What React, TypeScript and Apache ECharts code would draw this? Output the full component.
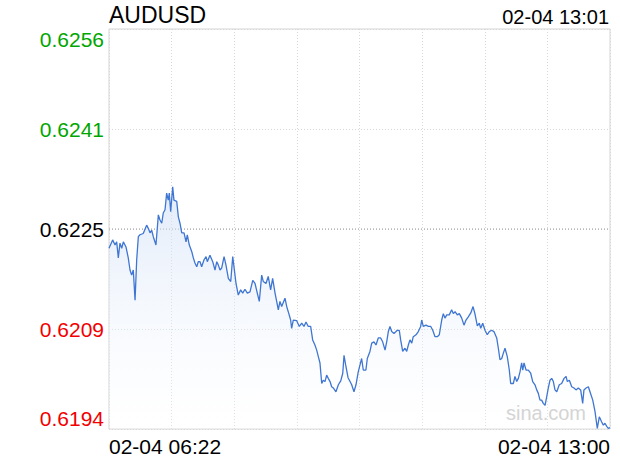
import React, { useEffect, useRef } from "react";
import * as echarts from "echarts";

const symbolName = "AUDUSD";
const quoteTime = "02-04 13:01";
const xLabels = ["02-04 06:22", "02-04 13:00"];
const sessionMinutes = 398; // 06:22 -> 13:00
const prevClose = 0.6225;
const yTicks = [0.61938, 0.62094, 0.6225, 0.62406, 0.62562];
const watermark = "sina.com";

// [minutes since 06:22, price]
const quotes: [number, number][] = [
  [0, 0.6222], [2.9, 0.62233], [4.8, 0.62225], [6.1, 0.6223], [7.4, 0.62205], [8.7, 0.62228],
  [10.1, 0.6222], [11.4, 0.6223], [13.5, 0.62222], [15.3, 0.62205], [16.7, 0.62186], [18.0, 0.62178],
  [19.3, 0.62186], [20.7, 0.62139], [22.0, 0.62202], [23.3, 0.62238], [24.6, 0.62241], [27.2, 0.62243],
  [29.9, 0.62256], [31.2, 0.62251], [32.6, 0.62244], [33.9, 0.62248], [35.2, 0.62238], [37.3, 0.62225],
  [39.2, 0.62272], [40.5, 0.62264], [41.9, 0.62259], [43.1, 0.62275], [44.5, 0.6228], [45.8, 0.62306],
  [47.1, 0.62295], [47.9, 0.62306], [49.0, 0.62277], [50.6, 0.62316], [51.6, 0.62295], [53.8, 0.62293],
  [55.1, 0.62269], [56.4, 0.62259], [57.8, 0.62244], [59.6, 0.62244], [61.2, 0.6223], [62.2, 0.62241],
  [63.8, 0.62225], [65.7, 0.62215], [67.0, 0.62205], [68.3, 0.62197], [69.7, 0.62191], [70.9, 0.62199],
  [72.3, 0.62199], [73.6, 0.62191], [75.5, 0.62202], [77.1, 0.62207], [78.1, 0.62199], [80.2, 0.62209],
  [82.4, 0.62199], [84.2, 0.62186], [85.6, 0.62199], [86.8, 0.62194], [88.2, 0.62186], [89.5, 0.62189],
  [91.4, 0.62207], [92.9, 0.62194], [94.8, 0.62173], [96.7, 0.62168], [98.3, 0.62207], [99.3, 0.62191],
  [100.9, 0.62165], [102.7, 0.62147], [104.6, 0.62155], [106.2, 0.6215], [108.0, 0.62156], [109.9, 0.6215],
  [112.0, 0.62152], [114.2, 0.6217], [116.0, 0.62165], [117.8, 0.6215], [119.4, 0.62137], [121.3, 0.62178],
  [122.6, 0.62168], [124.7, 0.62165], [126.5, 0.62176], [128.4, 0.62155], [130.0, 0.62173], [131.9, 0.6215],
  [133.2, 0.62137], [134.5, 0.62124], [135.8, 0.62137], [137.2, 0.62129], [139.8, 0.62142], [141.2, 0.62129],
  [142.4, 0.62121], [144.3, 0.62108], [145.1, 0.62095], [146.4, 0.62108], [149.1, 0.62107], [151.2, 0.62098],
  [153.1, 0.62103], [154.9, 0.62098], [156.5, 0.62105], [158.3, 0.62098], [160.2, 0.62098], [161.8, 0.62077],
  [163.6, 0.62069], [165.0, 0.62061], [166.3, 0.62051], [167.6, 0.62041], [169.0, 0.62009], [170.2, 0.62014],
  [171.6, 0.62012], [172.9, 0.62022], [174.2, 0.62017], [175.6, 0.62012], [176.9, 0.62004], [178.2, 0.62002],
  [180.3, 0.61996], [182.2, 0.62007], [184.1, 0.62013], [185.7, 0.62025], [186.7, 0.62053], [188.0, 0.62038],
  [189.9, 0.62018], [191.5, 0.62012], [192.8, 0.62007], [194.6, 0.61996], [196.2, 0.62007], [198.0, 0.62027],
  [199.4, 0.62038], [200.7, 0.62048], [202.0, 0.6203], [204.1, 0.6203], [205.2, 0.62048], [207.3, 0.62059],
  [208.7, 0.62072], [210.5, 0.62074], [212.1, 0.62069], [213.9, 0.6208], [215.8, 0.6208], [217.4, 0.62074],
  [219.3, 0.62061], [220.6, 0.62074], [221.9, 0.6209], [223.2, 0.62098], [224.6, 0.6209], [226.4, 0.62087],
  [228.0, 0.6209], [229.0, 0.62092], [230.6, 0.62092], [231.7, 0.62077], [233.3, 0.62059], [235.1, 0.62064],
  [236.5, 0.62059], [237.8, 0.62069], [239.1, 0.62077], [240.5, 0.62072], [241.7, 0.62082], [243.9, 0.62085],
  [245.7, 0.6209], [247.6, 0.62098], [248.4, 0.62108], [249.7, 0.62098], [251.8, 0.621], [253.7, 0.62098],
  [255.6, 0.62098], [257.2, 0.62092], [259.0, 0.62082], [260.8, 0.62082], [262.4, 0.62085], [264.3, 0.62108],
  [265.6, 0.62118], [266.9, 0.62111], [268.3, 0.62116], [270.3, 0.62116], [272.2, 0.62124], [273.5, 0.62118],
  [274.9, 0.62121], [276.7, 0.62116], [278.3, 0.62118], [280.2, 0.62111], [282.0, 0.621], [283.6, 0.62108],
  [285.4, 0.62113], [287.4, 0.62119], [289.2, 0.62129], [290.8, 0.62117], [292.6, 0.62099], [294.2, 0.62103],
  [295.3, 0.62095], [296.9, 0.62103], [298.7, 0.62092], [300.5, 0.62085], [302.1, 0.6209], [304.0, 0.62092],
  [305.8, 0.6209], [308.0, 0.6208], [309.3, 0.62064], [310.6, 0.62046], [312.0, 0.62048], [313.2, 0.62056],
  [314.6, 0.62064], [316.4, 0.62051], [318.0, 0.6203], [319.1, 0.62009], [321.2, 0.62009], [322.5, 0.6202],
  [323.9, 0.62012], [325.2, 0.62017], [326.5, 0.62027], [327.8, 0.62041], [328.7, 0.6203], [329.7, 0.62041],
  [331.3, 0.6203], [333.1, 0.6203], [335.0, 0.62025], [336.6, 0.62012], [338.4, 0.62007], [339.8, 0.61999],
  [341.0, 0.61994], [342.4, 0.61983], [343.7, 0.61983], [345.0, 0.61978], [346.4, 0.61975], [347.7, 0.61988],
  [349.0, 0.62002], [350.3, 0.62014], [351.7, 0.62017], [353.0, 0.62012], [354.3, 0.61999], [355.7, 0.61996],
  [357.7, 0.62007], [359.6, 0.62009], [361.5, 0.62017], [363.1, 0.6202], [364.1, 0.62012], [365.7, 0.62014],
  [367.6, 0.62004], [369.4, 0.62002], [371.0, 0.61999], [372.8, 0.62002], [374.7, 0.61999], [376.3, 0.61978],
  [377.3, 0.61999], [379.0, 0.62002], [380.8, 0.62004], [382.1, 0.61996], [384.3, 0.61983], [386.1, 0.61965],
  [387.9, 0.61939], [389.5, 0.61957], [391.4, 0.61949], [392.7, 0.61944], [394.0, 0.61947], [395.4, 0.61942],
  [396.7, 0.61939], [398, 0.6194],
];

const FONT = "'Liberation Sans', Arial, Helvetica, sans-serif";

export default function App() {
  const ref = useRef<HTMLDivElement>(null);

  useEffect(() => {
    if (!ref.current) return;
    const chart = echarts.init(ref.current, null, { renderer: "svg" });
    const yMin = yTicks[0];
    const yMax = yTicks[yTicks.length - 1];
    chart.setOption({
      animation: false,
      backgroundColor: "#fff",
      title: [
        {
          text: symbolName,
          left: 109,
          top: 3,
          padding: 0,
          textStyle: { fontFamily: FONT, fontSize: 23, fontWeight: "normal", color: "#000" },
        },
        {
          text: quoteTime,
          right: 11,
          top: 7,
          padding: 0,
          textStyle: { fontFamily: FONT, fontSize: 20, fontWeight: "normal", color: "#000" },
        },
      ],
      grid: {
        left: 109,
        top: 29,
        right: 10,
        bottom: 31,
        show: true,
        borderColor: "#d4d4d4",
        borderWidth: 1,
        backgroundColor: "transparent",
        outerBoundsMode: "none",
      },
      xAxis: {
        type: "value",
        min: 0,
        max: sessionMinutes,
        interval: sessionMinutes / 8,
        axisLine: { show: false },
        axisTick: { show: false },
        splitLine: { show: true, lineStyle: { type: [1, 2], color: "#d8d8d8", width: 1 } },
        axisLabel: {
          show: true,
          showMinLabel: true,
          showMaxLabel: true,
          alignMinLabel: "left",
          alignMaxLabel: "right",
          margin: 7,
          fontFamily: FONT,
          fontSize: 21,
          color: "#000",
          formatter: (v: number) => {
            if (v === 0) return xLabels[0];
            if (Math.abs(v - sessionMinutes) < 1e-6) return xLabels[1];
            return "";
          },
        },
      },
      yAxis: {
        type: "value",
        min: yMin,
        max: yMax,
        axisLine: { show: false },
        axisTick: { show: false, customValues: yTicks },
        splitLine: { show: true, lineStyle: { type: [1, 2], color: "#d8d8d8", width: 1 } },
        axisLabel: {
          customValues: yTicks,
          showMinLabel: true,
          showMaxLabel: true,
          verticalAlignMinLabel: "bottom",
          verticalAlignMaxLabel: "top",
          margin: 5,
          fontFamily: FONT,
          fontSize: 21,
          formatter: (v: number) => Number(v).toFixed(4),
          color: (val: any) => {
            const n = parseFloat(val);
            if (n > prevClose + 1e-6) return "#00a600";
            if (n < prevClose - 1e-6) return "#f20000";
            return "#000";
          },
        },
      },
      graphic: [
        {
          type: "text",
          left: 506,
          top: 403,
          silent: true,
          style: { text: watermark, fill: "#c8c8c8", font: `20px ${FONT}` },
        },
      ],
      series: [
        {
          type: "line",
          data: [
            [0, prevClose],
            [sessionMinutes, prevClose],
          ],
          showSymbol: false,
          symbol: "none",
          silent: true,
          lineStyle: { type: [1, 2], color: "#9a9a9a", width: 1 },
          z: 1,
        },
        {
          type: "line",
          data: quotes,
          showSymbol: false,
          symbol: "none",
          lineStyle: { color: "#3f76d2", width: 1.3 },
          itemStyle: { color: "#3f76d2" },
          areaStyle: {
            color: new echarts.graphic.LinearGradient(0, 0, 0, 1, [
              { offset: 0, color: "rgba(206,222,246,0.85)" },
              { offset: 1, color: "rgba(255,255,255,0.3)" },
            ]),
          },
          z: 2,
        },
      ],
    });
    return () => chart.dispose();
  }, []);

  return (
    <div
      ref={ref}
      style={{ position: "absolute", left: 0, top: 0, width: 620, height: 460 }}
    />
  );
}
